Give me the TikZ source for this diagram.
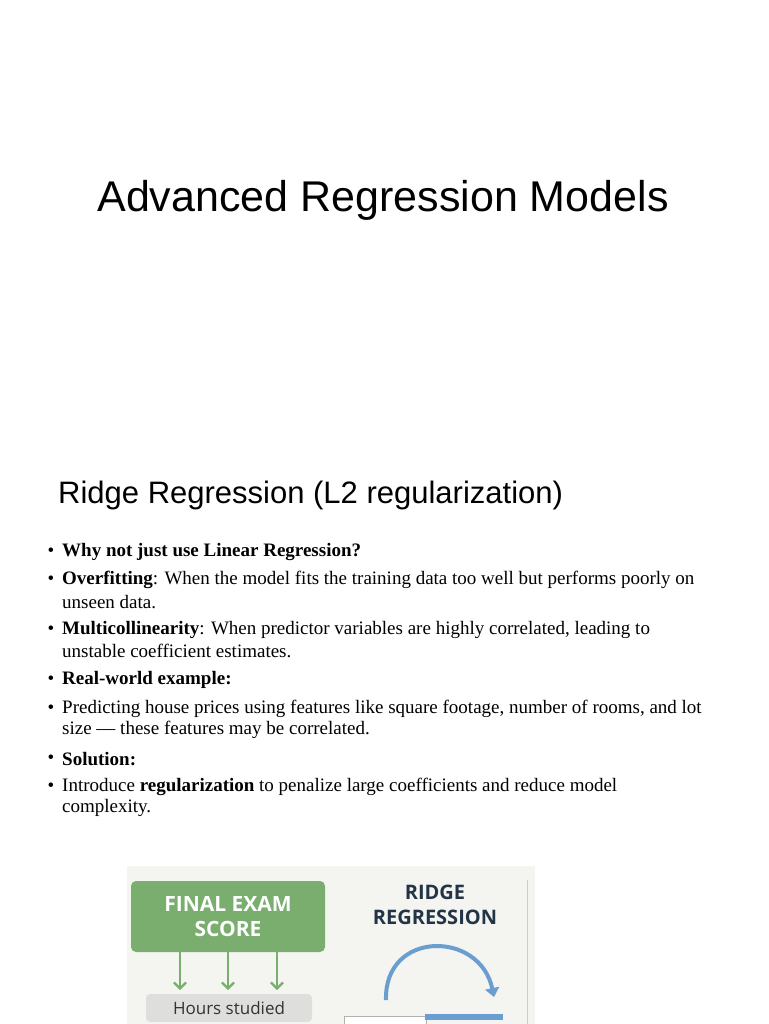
\documentclass[tikz,border=0pt]{standalone}
\usepackage{fontspec}
\setmainfont{Liberation Serif}
\newfontfamily\titlefont{Liberation Sans}
\newfontfamily\imgfont{Open Sans}
\definecolor{exgreen}{HTML}{79AE6E}
\definecolor{navy}{HTML}{243447}
\definecolor{rblue}{HTML}{6A9ED0}
\definecolor{imgbg}{HTML}{F4F4F1}
\definecolor{gbox}{HTML}{DEDEDC}
\tikzset{
  bl/.style={anchor=west,inner sep=0pt,font=\fontsize{19}{23}\selectfont},
  bul/.style={anchor=center,inner sep=0pt,font=\fontsize{19}{23}\selectfont},
  garrow/.style={draw=exgreen,line width=2.2pt,-{Straight Barb[length=6pt,width=12pt]}}
}
\usetikzlibrary{arrows.meta}
\begin{document}
\begin{tikzpicture}[x=1pt,y=-1pt]
\useasboundingbox (0,0) rectangle (768,1024);
\fill[white] (0,0) rectangle (768,1024);
\node[inner sep=0pt,font=\titlefont\fontsize{43}{47}\selectfont] (title) at (383,200) {Advanced Regression Models};
\node[anchor=west,inner sep=0pt,font=\titlefont\fontsize{31}{35}\selectfont] (sub) at (58,495) {Ridge Regression (L2 regularization)};
% bullets
\foreach \y in {552,580,630,680,709,759,787}{\node[bul] at (51,\y) {•};}
\node[bl] (b1) at (62,552) {\textbf{Why not just use Linear Regression?}};
\node[bl] (b2) at (62,580) {\textbf{Overfitting}: When the model fits the training data too well but performs poorly on};
\node[bl] (b2b) at (62,602) {unseen data.};
\node[bl] (b3) at (62,630) {\textbf{Multicollinearity}: When predictor variables are highly correlated, leading to};
\node[bl] (b3b) at (62,651) {unstable coefficient estimates.};
\node[bl] (b4) at (62,680) {\textbf{Real-world example:}};
\node[bl] (b5) at (62,709) {Predicting house prices using features like square footage, number of rooms, and lot};
\node[bl] (b5b) at (62,730) {size — these features may be correlated.};
\node[bl] (b6) at (62,759) {\textbf{Solution:}};
\node[bl] (b7) at (62,787) {Introduce \textbf{regularization} to penalize large coefficients and reduce model};
\node[bl] (b7b) at (62,808) {complexity.};
% image
\fill[imgbg] (127,866) rectangle (535,1024);
\draw[gray!40,line width=1pt] (527,880) -- (527,1024);
\node[fill=exgreen,rounded corners=5pt,minimum width=194pt,minimum height=71pt,inner sep=0pt,
  text=white,align=center,font=\imgfont\bfseries\fontsize{21}{25}\selectfont] (exam) at (228,916.5) {FINAL EXAM\\SCORE};
\node[fill=gbox,rounded corners=4pt,minimum width=166pt,minimum height=28pt,inner sep=0pt,
  text=black!80,font=\imgfont\fontsize{17}{20}\selectfont] (hours) at (229,1008) {Hours studied};
\foreach \x/\n in {180/a,228/b,277/c}{
  \coordinate (s\n) at (\x,952); \coordinate (e\n) at (\x,990);
  \draw[garrow] (s\n) -- (e\n);}
\node[align=center,inner sep=0pt,text=navy,font=\imgfont\bfseries\fontsize{20}{25}\selectfont] (ridge) at (435,905) {RIDGE\\REGRESSION};
\coordinate (arcs) at (386,1000);
\coordinate (arce) at (494,997);
\draw[rblue,line width=4pt,-{Triangle[length=9pt,width=14pt]}] (arcs) .. controls (384,930) and (480,930) .. (arce);
\fill[white,draw=gray!60] (344,1016) rectangle (426,1030);
\fill[rblue] (425,1014) rectangle (503,1020);
\end{tikzpicture}
\end{document}
